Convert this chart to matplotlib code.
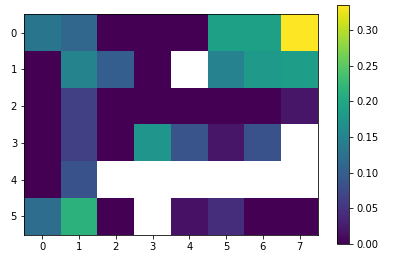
import numpy as np
import matplotlib
matplotlib.use("Agg")
import matplotlib.pyplot as plt

nan = np.nan

# cell values (NaN = empty/white cell)
row0 = [0.130, 0.110, 0.0, 0.0, 0.0, 0.190, 0.190, 0.335]
row1 = [0.0, 0.150, 0.100, 0.0, nan, 0.148, 0.180, 0.187]
row2 = [0.0, 0.064, 0.0, 0.0, 0.0, 0.0, 0.0, 0.020]
row3 = [0.0, 0.064, 0.0, 0.175, 0.087, 0.020, 0.085, nan]
row4 = [0.0, 0.085, nan, nan, nan, nan, nan, nan]
row5 = [0.120, 0.215, 0.0, nan, 0.017, 0.044, 0.0, 0.0]

data = np.array([row0, row1, row2, row3, row4, row5])

fig = plt.figure(figsize=(395 / 72, 261 / 72), dpi=72)
ax = fig.add_axes([0.0608, 0.0996, 0.744, 0.847])
cax = fig.add_axes([0.853, 0.0651, 0.0304, 0.916])

im = ax.imshow(data, cmap="viridis", vmin=0.0, vmax=0.335)
ax.set_xticks(range(data.shape[1]))
ax.set_yticks(range(data.shape[0]))
ax.tick_params(labelsize=10)

cb = fig.colorbar(im, cax=cax)
cb.set_ticks([0.0, 0.05, 0.10, 0.15, 0.20, 0.25, 0.30])
cb.ax.tick_params(labelsize=10)

fig.savefig("out.png", dpi=72)
